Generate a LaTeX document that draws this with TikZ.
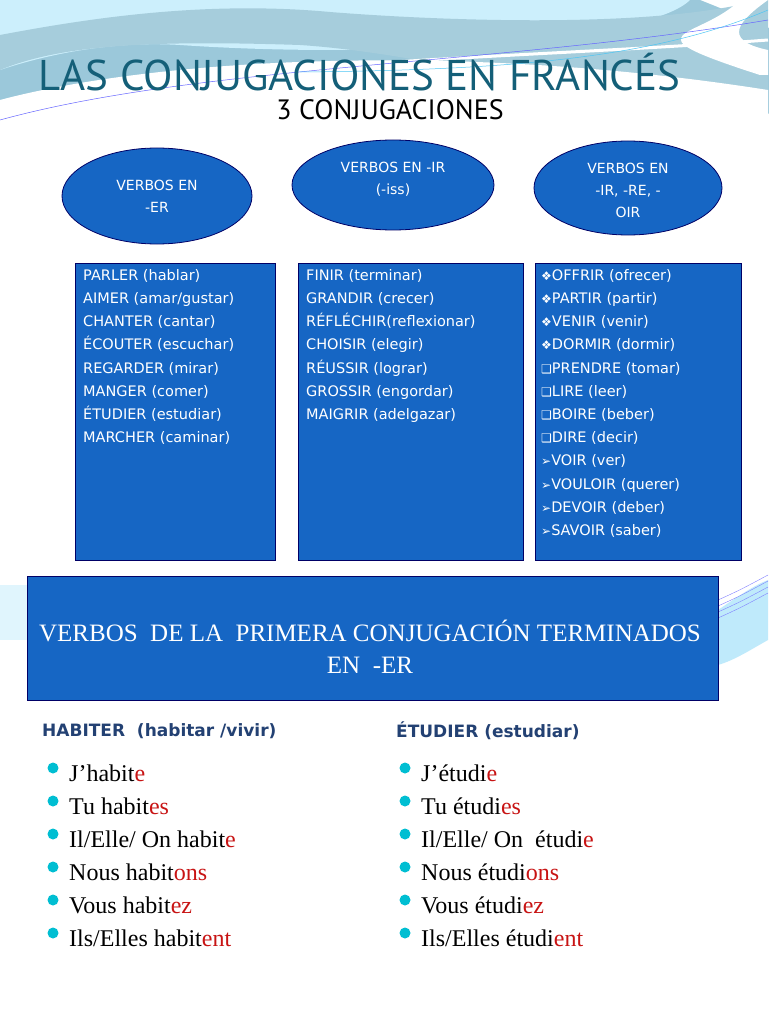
\documentclass[tikz,border=0pt]{standalone}
\usepackage{fontspec}
\usetikzlibrary{shapes.geometric}
\setmainfont{Liberation Serif}
\setsansfont{PT Sans}
\newfontfamily\sym{DejaVu Sans}
\newfontfamily\tah{DejaVu Sans}
\begin{document}
\begin{tikzpicture}[x=1pt,y=-1pt,
  bx/.style={draw=blue!40!black,fill=boxblue,line width=0.8pt},
  el/.style={draw=blue!40!black,fill=boxblue,line width=0.8pt,ellipse},
  lst/.style={text=white,font=\tah\fontsize{14.5}{23.2}\selectfont,align=left,anchor=north west,inner sep=0pt},
  etx/.style={text=white,font=\tah\fontsize{14}{22}\selectfont,align=center},
  cj/.style={font=\fontsize{24}{26}\selectfont,anchor=west,inner sep=0pt},
  dot/.style={circle,fill=cyanb,inner sep=0pt,minimum size=11pt}]
\definecolor{boxblue}{RGB}{22,102,196}
\definecolor{titc}{RGB}{20,95,120}
\definecolor{endc}{RGB}{200,20,20}
\definecolor{hdc}{RGB}{35,65,115}
\definecolor{cyanb}{RGB}{0,190,210}
\useasboundingbox (0,0) rectangle (768,1024);
\fill[white] (0,0) rectangle (768,1024);
% top waves
\fill[cyan!35!teal!45] (0,0) -- (700,0) .. controls (800,40) and (1000,120) .. (900,130) .. controls (600,80) and (300,120) .. (0,200) -- cycle;
\fill[cyan!20!white] (0,0) -- (690,0) .. controls (650,40) and (400,60) .. (180,45) .. controls (100,40) and (30,60) .. (0,70) -- cycle;
\fill[cyan!30!teal!40] (0,70) .. controls (60,45) and (150,40) .. (300,45) .. controls (450,55) and (600,110) .. (768,95) -- (768,0) -- (760,0) .. controls (650,30) and (430,20) .. (330,12) .. controls (200,0) and (80,20) .. (0,35) -- cycle;
\fill[white] (740,0) .. controls (700,40) and (620,30) .. (760,75) -- (768,75) -- (768,50) .. controls (720,40) and (740,20) .. (768,0) -- cycle;
\fill[white] (0,100) .. controls (150,60) and (450,40) .. (768,90) -- (768,1024) -- (0,1024) -- cycle;
\draw[white,line width=3pt] (0,115) .. controls (200,60) and (500,60) .. (768,40);
\draw[blue!60,line width=0.5pt] (0,120) .. controls (200,65) and (500,65) .. (768,20);
\draw[cyan!70,line width=0.5pt] (300,72) .. controls (500,70) and (650,60) .. (768,10);
% bottom right decoration
\fill[cyan!25] (718,610) .. controls (740,595) and (755,585) .. (768,580) -- (768,640) .. controls (750,650) and (735,660) .. (718,665) -- cycle;
\foreach \d in {0,6,12,18} \draw[blue!50,line width=0.4pt] (718,600+\d) .. controls (740,590+\d) .. (768,575+\d);
\fill[cyan!12] (0,585) rectangle (27,640);
% titles
\node[text=titc,font=\sffamily\fontsize{43}{46}\selectfont,anchor=west,inner sep=0pt] (t) at (38,72) {LAS CONJUGACIONES EN FRANCÉS};
\node[font=\sffamily\fontsize{28}{30}\selectfont,inner sep=0pt] (s) at (390,110) {3 CONJUGACIONES};
% ellipses
\node[el,minimum width=190pt,minimum height=96pt] (e1) at (157,196) {};
\node[etx] at (e1) {VERBOS EN\\-ER};
\node[el,minimum width=202pt,minimum height=90pt] (e2) at (393,185) {};
\node[etx] at ([yshift=6]e2) {VERBOS EN -IR\\(-iss)};
\node[el,minimum width=188pt,minimum height=94pt] (e3) at (628,188) {};
\node[etx] at ([yshift=-2]e3) {VERBOS EN\\-IR, -RE, -\\OIR};
% boxes
\draw[bx] (75,263) rectangle (275,560);
\draw[bx] (298,263) rectangle (523,560);
\draw[bx] (535,263) rectangle (741,560);
\node[lst] (l1) at (83,269) {PARLER (hablar)\\AIMER (amar/gustar)\\CHANTER (cantar)\\ÉCOUTER (escuchar)\\REGARDER (mirar)\\MANGER (comer)\\ÉTUDIER (estudiar)\\MARCHER (caminar)};
\node[lst] (l2) at (306,269) {FINIR (terminar)\\GRANDIR (crecer)\\RÉFLÉCHIR(reflexionar)\\CHOISIR (elegir)\\RÉUSSIR (lograr)\\GROSSIR (engordar)\\MAIGRIR (adelgazar)};
\node[lst] (l3) at (541,269) {{\sym\fontsize{12}{23}\selectfont ❖}OFFRIR (ofrecer)\\{\sym\fontsize{12}{23}\selectfont ❖}PARTIR (partir)\\{\sym\fontsize{12}{23}\selectfont ❖}VENIR (venir)\\{\sym\fontsize{12}{23}\selectfont ❖}DORMIR (dormir)\\{\sym\fontsize{12}{23}\selectfont ❑}PRENDRE (tomar)\\{\sym\fontsize{12}{23}\selectfont ❑}LIRE (leer)\\{\sym\fontsize{12}{23}\selectfont ❑}BOIRE (beber)\\{\sym\fontsize{12}{23}\selectfont ❑}DIRE (decir)\\{\sym\fontsize{12}{23}\selectfont ➢}VOIR (ver)\\{\sym\fontsize{12}{23}\selectfont ➢}VOULOIR (querer)\\{\sym\fontsize{12}{23}\selectfont ➢}DEVOIR (deber)\\{\sym\fontsize{12}{23}\selectfont ➢}SAVOIR (saber)};
% banner
\draw[bx] (27,576) rectangle (718,700);
\node[text=white,font=\fontsize{25}{32}\selectfont,align=center] (bt) at (370,647) {VERBOS \ DE LA \ PRIMERA CONJUGACIÓN TERMINADOS\\EN \ -ER};
% conjugations
\node[text=hdc,font=\tah\bfseries\fontsize{17}{20}\selectfont,anchor=west,inner sep=0pt] (h1) at (42,731) {HABITER \ (habitar /vivir)};
\node[text=hdc,font=\tah\bfseries\fontsize{17}{20}\selectfont,anchor=west,inner sep=0pt] (h2) at (396,731) {ÉTUDIER (estudiar)};
\foreach \y/\a/\b [count=\i] in {773/{J’habit}/e,806/{Tu habit}/es,839/{Il/Elle/ On habit}/e,872/{Nous habit}/ons,905/{Vous habit}/ez,938/{Ils/Elles habit}/ent}{
  \node[dot] (da\i) at (53,\y-5) {};
  \node[cj] (ca\i) at (69,\y) {\a\textcolor{endc}{\b}};}
\foreach \y/\a/\b [count=\i] in {773/{J’étudi}/e,806/{Tu étudi}/es,839/{Il/Elle/ On \ étudi}/e,872/{Nous étudi}/ons,905/{Vous étudi}/ez,938/{Ils/Elles étudi}/ent}{
  \node[dot] (db\i) at (405,\y-5) {};
  \node[cj] (cb\i) at (421,\y) {\a\textcolor{endc}{\b}};}
\end{tikzpicture}
\end{document}
